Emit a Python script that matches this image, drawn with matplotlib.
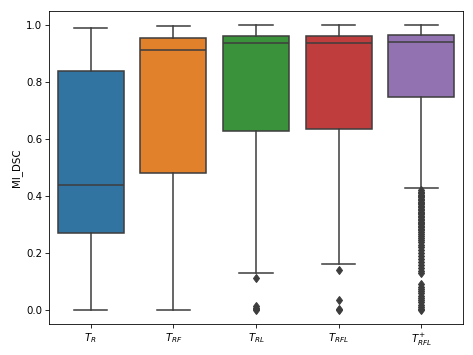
import matplotlib
matplotlib.use("Agg")
import matplotlib.pyplot as plt
import numpy as np

labels = [r"$T_R$", r"$T_{RF}$", r"$T_{RL}$", r"$T_{RFL}$", r"$T^{+}_{RFL}$"]
whislo = [0.0, 0.0, 0.131, 0.161, 0.427]
q1 = [0.269, 0.482, 0.629, 0.634, 0.748]
med = [0.439, 0.912, 0.936, 0.938, 0.942]
q3 = [0.839, 0.953, 0.961, 0.961, 0.964]
whishi = [0.988, 0.996, 1.0, 1.0, 1.0]
fliers = [
    [],
    [],
    [0.111, 0.012, 0.006, 0.002, 0.0],
    [0.140, 0.033, 0.003, 0.0],
    [0.420, 0.415, 0.41, 0.405, 0.40, 0.395, 0.39, 0.385, 0.38, 0.375, 0.37,
     0.365, 0.36, 0.355, 0.35, 0.345, 0.34, 0.335, 0.33, 0.325, 0.32, 0.315,
     0.31, 0.305, 0.30, 0.295, 0.29, 0.285, 0.28, 0.275, 0.268, 0.26, 0.252,
     0.245, 0.238, 0.228, 0.22, 0.21, 0.2, 0.19, 0.178, 0.168, 0.158, 0.148,
     0.138, 0.13, 0.09, 0.082, 0.074, 0.066, 0.058, 0.05, 0.042, 0.034,
     0.026, 0.018, 0.01, 0.004, 0.0],
]
colors = ["#3274a1", "#e1812c", "#3a923a", "#c03d3e", "#9372b2"]

stats = []
for i in range(len(labels)):
    stats.append(dict(label=labels[i], whislo=whislo[i], q1=q1[i], med=med[i],
                      q3=q3[i], whishi=whishi[i], fliers=fliers[i]))

fig = plt.figure(figsize=(6.4, 4.8), dpi=74)
ax = fig.add_axes([0.104, 0.087, 0.873, 0.882])
lc = "#3d3d3d"
bp = ax.bxp(stats, positions=range(len(labels)), widths=0.8, patch_artist=True,
            boxprops=dict(edgecolor=lc, linewidth=1.5),
            medianprops=dict(color=lc, linewidth=1.5),
            whiskerprops=dict(color=lc, linewidth=1.5),
            capprops=dict(color=lc, linewidth=1.5),
            flierprops=dict(marker="d", markerfacecolor=lc, markeredgecolor=lc,
                            markersize=6, linestyle="none"))
for patch, c in zip(bp["boxes"], colors):
    patch.set_facecolor(c)
for cap in bp["caps"]:
    x = cap.get_xdata()
    cx = x.mean()
    cap.set_xdata([cx - 0.2, cx + 0.2])

ax.set_xlim(-0.5, len(labels) - 0.5)
ax.set_ylim(-0.05, 1.05)
ax.set_xticks(range(len(labels)))
ax.set_xticklabels(labels)
ax.set_ylabel("MI_DSC")
fig.savefig("out.png", dpi=74)
